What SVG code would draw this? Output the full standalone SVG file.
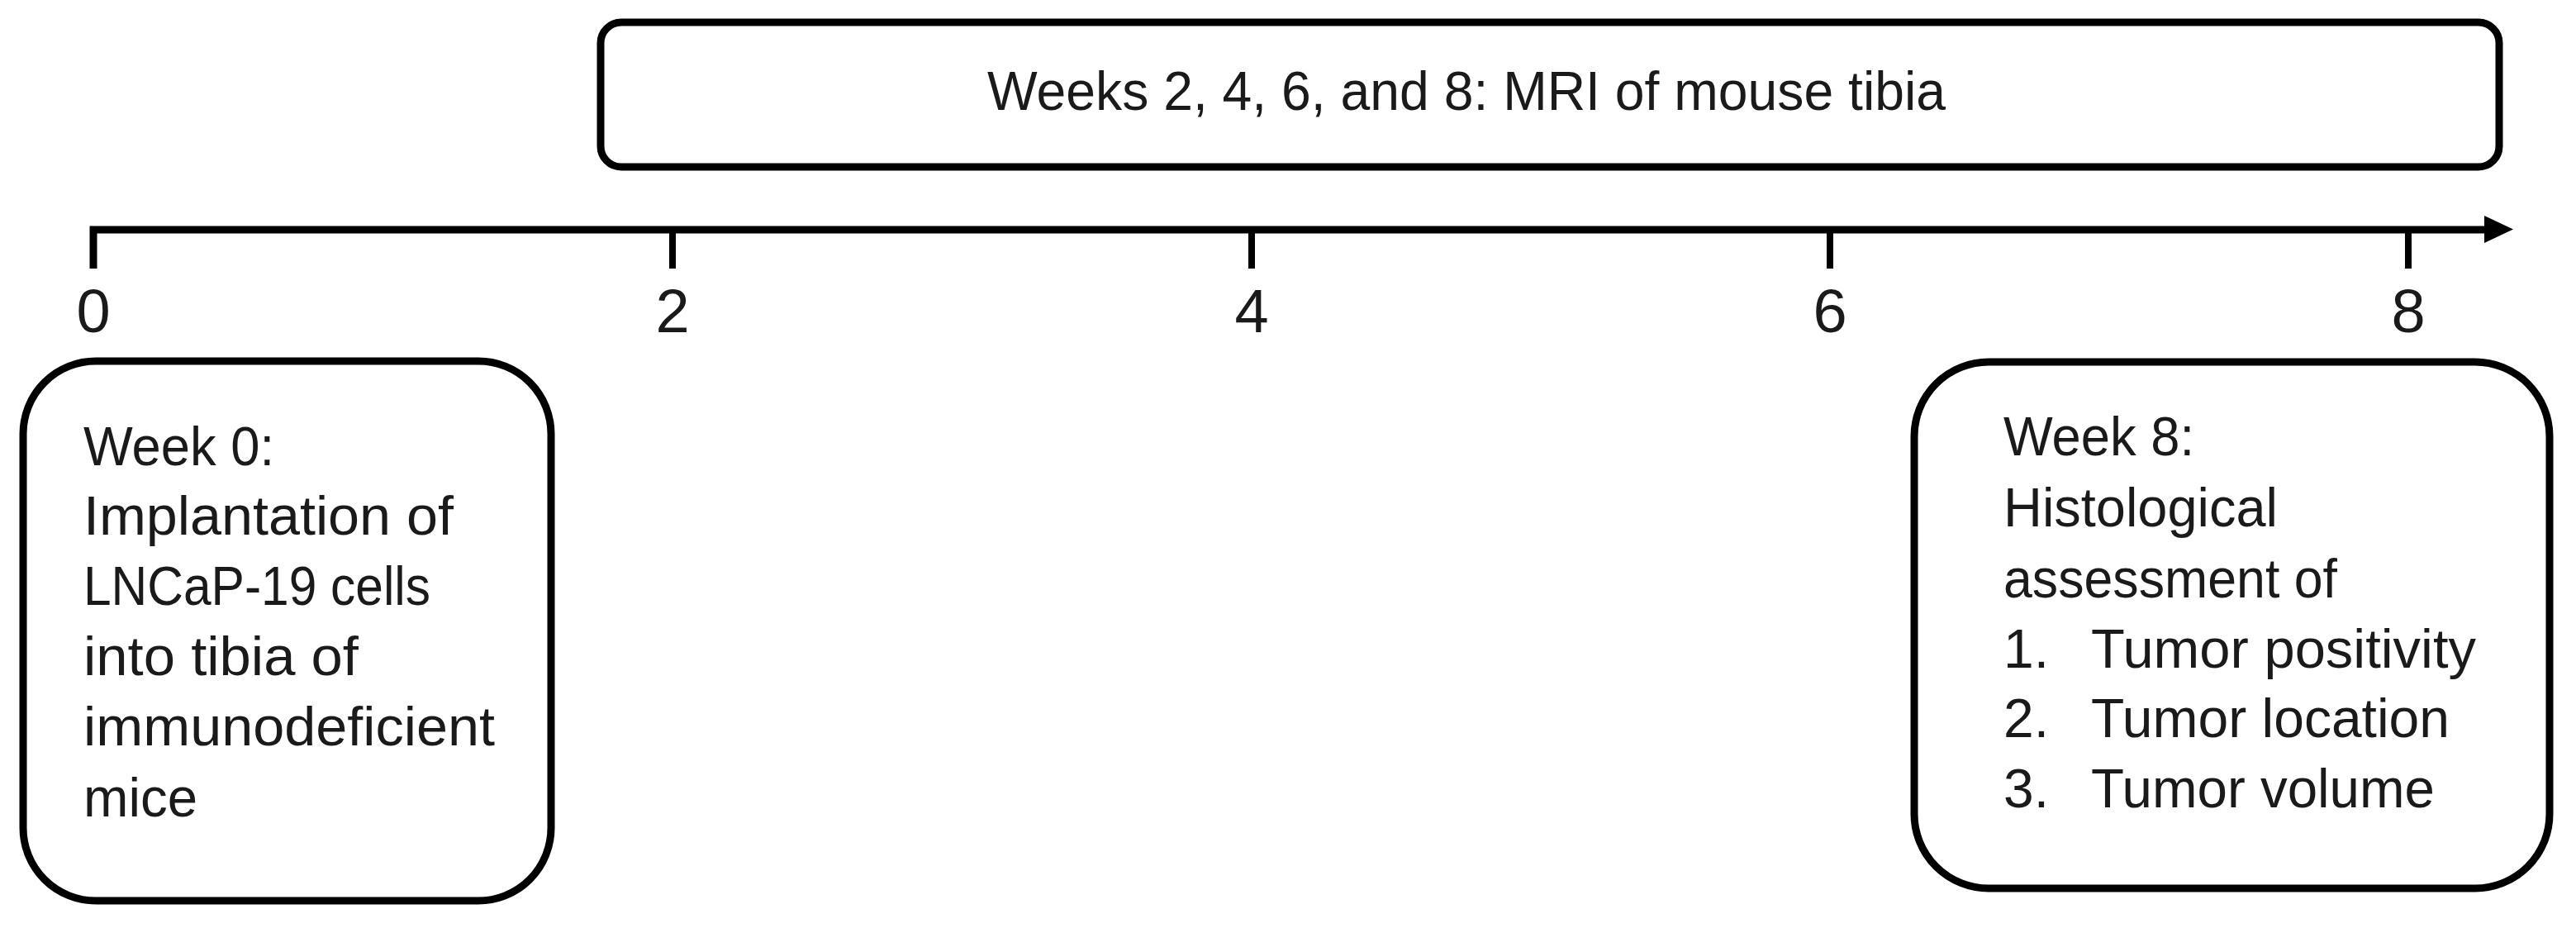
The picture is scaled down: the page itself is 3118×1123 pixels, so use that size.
<svg xmlns="http://www.w3.org/2000/svg" width="3118" height="1123" viewBox="0 0 3118 1123">
<style>
.box{fill:#ffffff;stroke:#000000;stroke-width:9}
.t{font-family:"Liberation Sans",Arial,sans-serif;font-size:66px;fill:#1a1a1a}
.lbl{font-family:"Liberation Sans",Arial,sans-serif;font-size:74px;fill:#1a1a1a;text-anchor:middle}
.axis{stroke:#000000;stroke-width:9;fill:none}
.tick{stroke:#000000;stroke-width:8;fill:none}
</style>
<rect width="3118" height="1123" fill="#ffffff"/>
<g id="mri-box">
<rect class="box" x="727" y="27" width="2298" height="175" rx="25" ry="25"/>
<text class="t" x="1195" y="133" textLength="1160" lengthAdjust="spacingAndGlyphs">Weeks 2, 4, 6, and 8: MRI of mouse tibia</text>
</g>
<g id="timeline">
<path class="axis" d="M113 325 V278 H3012"/>
<polygon points="3007,261 3042,277.5 3007,294" fill="#000000"/>
<path class="tick" d="M814 278 V325 M1515 278 V325 M2215 278 V325 M2915 278 V325"/>
<text class="lbl" x="113" y="402">0</text>
<text class="lbl" x="814" y="402">2</text>
<text class="lbl" x="1515" y="402">4</text>
<text class="lbl" x="2215" y="402">6</text>
<text class="lbl" x="2915" y="402">8</text>
</g>
<g id="week0-box">
<rect class="box" x="28" y="437" width="639" height="653" rx="88" ry="88"/>
<text class="t" x="101" y="563" textLength="231" lengthAdjust="spacingAndGlyphs">Week 0:</text>
<text class="t" x="101" y="647" textLength="448" lengthAdjust="spacingAndGlyphs">Implantation of</text>
<text class="t" x="101" y="732" textLength="420" lengthAdjust="spacingAndGlyphs">LNCaP-19 cells</text>
<text class="t" x="101" y="817" textLength="333" lengthAdjust="spacingAndGlyphs">into tibia of</text>
<text class="t" x="101" y="902" textLength="498" lengthAdjust="spacingAndGlyphs">immunodeficient</text>
<text class="t" x="101" y="988" textLength="138" lengthAdjust="spacingAndGlyphs">mice</text>
</g>
<g id="week8-box">
<rect class="box" x="2317" y="438" width="769" height="637" rx="90" ry="90"/>
<text class="t" x="2425" y="551" textLength="231" lengthAdjust="spacingAndGlyphs">Week 8:</text>
<text class="t" x="2425" y="637" textLength="332" lengthAdjust="spacingAndGlyphs">Histological</text>
<text class="t" x="2425" y="723" textLength="404" lengthAdjust="spacingAndGlyphs">assessment of</text>
<text class="t" x="2425" y="808">1.</text>
<text class="t" x="2531" y="808" textLength="466" lengthAdjust="spacingAndGlyphs">Tumor positivity</text>
<text class="t" x="2425" y="892">2.</text>
<text class="t" x="2531" y="892" textLength="434" lengthAdjust="spacingAndGlyphs">Tumor location</text>
<text class="t" x="2425" y="977">3.</text>
<text class="t" x="2531" y="977" textLength="416" lengthAdjust="spacingAndGlyphs">Tumor volume</text>
</g>
</svg>
